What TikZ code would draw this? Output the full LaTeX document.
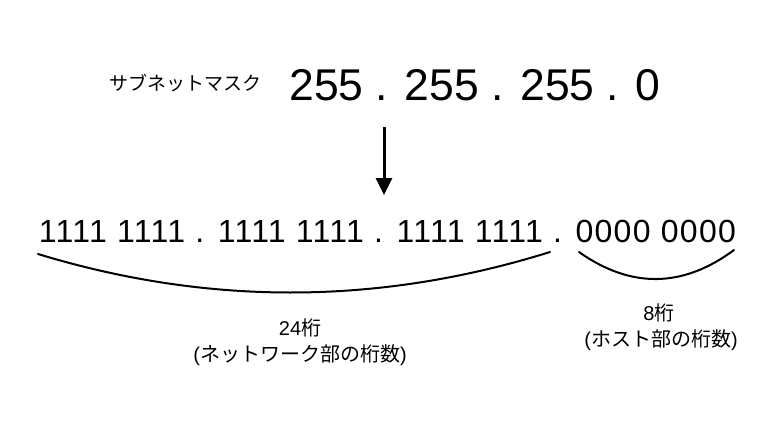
\documentclass[tikz,border=0pt]{standalone}
\usepackage{fontspec}
\setmainfont{Liberation Sans}
\newfontfamily\cjk{Noto Sans CJK JP}
\newfontfamily\binfont[LetterSpace=4.1]{Liberation Sans}
\usetikzlibrary{arrows.meta}
\begin{document}
\begin{tikzpicture}[x=1pt,y=-1pt,
  txt/.style={anchor=base,inner sep=0pt,text=black},
  sz/.style={font=\fontsize{#1}{#1}\selectfont},
  brace/.style={line width=2pt,black,line cap=round},
  downarrow/.style={line width=3pt,black,-{Triangle[width=16pt,length=17pt]}}]
\useasboundingbox (0,0) rectangle (768,432);
\fill[white] (0,0) rectangle (768,432);

% top row
\node[txt,sz=19] (label) at (185,90.5) {\cjk サブネットマスク};
\node[txt,sz=44.5] (mask) at (475,100) {255 . 255 . 255 . 0};

% arrow
\coordinate (arrS) at (384,127);
\coordinate (arrE) at (384,195);
\draw[downarrow] (arrS) -- (arrE);

% binary row
\node[txt,font=\binfont\fontsize{32}{32}\selectfont] (bin) at (387.5,242) {1111 1111 . 1111 1111 . 1111 1111 . 0000 0000};

% arcs
\coordinate (netL) at (38,254);
\coordinate (netR) at (550,252);
\coordinate (netC1) at (208.7,306);
\coordinate (netC2) at (379.3,305.3);
\draw[brace] (netL) .. controls (netC1) and (netC2) .. (netR);
\coordinate (hostL) at (579,252);
\coordinate (hostR) at (734,250);
\coordinate (hostC1) at (631,288.7);
\coordinate (hostC2) at (682.7,288);
\draw[brace] (hostL) .. controls (hostC1) and (hostC2) .. (hostR);

% labels
\node[txt,sz=20] (net1) at (300,335) {24{\cjk 桁}};
\node[txt,sz=20] (net2) at (300,361) {({\cjk ネットワーク部の桁数})};
\node[txt,sz=20] (host1) at (659,320) {8{\cjk 桁}};
\node[txt,sz=20] (host2) at (661,346) {({\cjk ホスト部の桁数})};
\end{tikzpicture}
\end{document}
